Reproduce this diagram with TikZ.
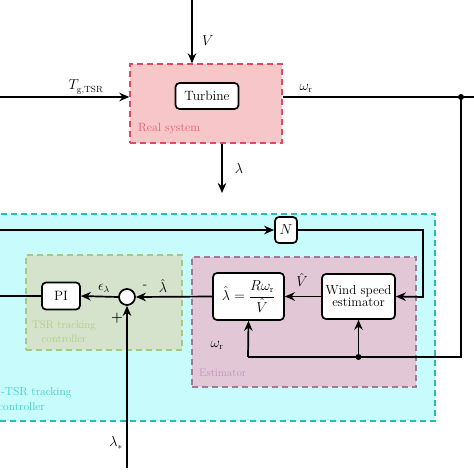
\documentclass[tikz,border=0pt]{standalone}
\usetikzlibrary{arrows.meta,positioning,calc}
\definecolor{realfill}{HTML}{F7C6C9}
\definecolor{realdraw}{HTML}{E04A5E}
\definecolor{realtext}{HTML}{E0606E}
\definecolor{cyfill}{HTML}{C8FBFB}
\definecolor{cydraw}{HTML}{22BFB2}
\definecolor{cytext}{HTML}{3CCFC6}
\definecolor{grfill}{HTML}{D5E2CC}
\definecolor{grdraw}{HTML}{A6C880}
\definecolor{grtext}{HTML}{ACCF80}
\definecolor{esfill}{HTML}{E2C7D7}
\definecolor{esdraw}{HTML}{A07A98}
\definecolor{estext}{HTML}{C292BA}
\tikzset{
  x=1pt,y=-1pt,
  group/.style={rectangle,dashed,line width=1.4pt,dash pattern=on 6pt off 4pt,inner sep=0pt},
  blk/.style={draw,rounded corners=4pt,line width=1.7pt,fill=white,inner sep=0pt,font=\fontsize{13.5}{14}\selectfont},
  sig/.style={line width=1.7pt,-{Stealth[length=10pt,width=8.5pt]}},
  wire/.style={line width=1.7pt},
  lbl/.style={font=\fontsize{13.5}{14}\selectfont,inner sep=0pt},
  dotn/.style={circle,fill=black,inner sep=0pt,minimum size=6pt},
}
\begin{document}
\begin{tikzpicture}
\useasboundingbox (0,0) rectangle (474,474);
\clip (0,0) rectangle (474,474);
% group boxes
\node[group,draw=cydraw,fill=cyfill,minimum width=455pt,minimum height=207pt] (cyan) at (207.5,317.5) {};
\node[group,draw=grdraw,fill=grfill,minimum width=156pt,minimum height=95pt] (green) at (104,302.5) {};
\node[group,draw=esdraw,fill=esfill,minimum width=224pt,minimum height=130pt] (estim) at (304,322) {};
\node[group,draw=realdraw,fill=realfill,minimum width=152pt,minimum height=79pt] (real) at (206,103.5) {};
% group labels
\node[anchor=west,text=realtext,font=\fontsize{12}{13}\selectfont,inner sep=0pt] (reallbl) at (138,129) {Real system};
\node[text=grtext,font=\fontsize{11}{14}\selectfont,align=center,inner sep=0pt] (grlbl) at (64,332) {TSR tracking\\controller};
\node[anchor=west,text=estext,font=\fontsize{11}{13}\selectfont,inner sep=0pt] (eslbl) at (199,373) {Estimator};
\node[anchor=north west,text=cytext,font=\fontsize{11.5}{16}\selectfont,align=left,inner sep=0pt] (cylbl) at (1,387) {-TSR tracking\\[-1pt]\hspace*{-3pt}controller};
% blocks
\node[blk,minimum width=63pt,minimum height=26pt] (turb) at (207,96) {Turbine};
\node[blk,minimum width=38pt,minimum height=27pt] (pi) at (61,296) {PI};
\node[draw,circle,line width=1.7pt,fill=white,minimum size=16pt,inner sep=0pt] (sum) at (127,297) {};
\node[blk,minimum width=71pt,minimum height=47pt] (lam) at (248.5,296.5) {$\displaystyle\hat\lambda=\frac{R\omega_{\mathrm{r}}}{\hat V}$};
\node[blk,minimum width=73pt,minimum height=45pt,align=center,font=\fontsize{13}{13}\selectfont] (wse) at (358.5,296.5) {Wind speed\\[-1pt]estimator};
\node[blk,minimum width=22pt,minimum height=26pt] (nn) at (286,230) {$N$};
% coordinates
\coordinate (vtop) at (192,-2);
\coordinate (tgl) at (-2,97);
\coordinate (wr) at (461,97);
\coordinate (wend) at (476,97);
\coordinate (lamout) at (222,193);
\coordinate (ntop) at (-2,230);
\coordinate (ncor1) at (423,230);
\coordinate (ncor2) at (423,297);
\coordinate (piout) at (-2,296);
\coordinate (lsb) at (127,468);
\coordinate (fb1) at (461,357);
\coordinate (fb2) at (248,357);
\coordinate (fb3) at (358.5,357);
% connectors
\draw[sig] (vtop) -- (vtop |- real.north);
\node[lbl,anchor=west] (vlbl) at (202,41) {$V$};
\draw[sig] (tgl) -- (tgl -| real.west);
\node[lbl] (tglbl) at (86,87) {$T_{\mathrm{g,TSR}}$};
\draw[wire] (real.east |- wr) -- (wend);
\node[lbl] (wlbl) at (306,88) {$\omega_{\mathrm{r}}$};
\node[dotn] (d1) at (wr) {};
\draw[sig] (lamout |- real.south) -- (lamout);
\node[lbl] (lamlbl) at (239,168) {$\lambda$};
\draw[sig] (ntop) -- (nn.west);
\draw[sig] (nn.east) -- (ncor1) -- (ncor2) -- (wse.east);
\draw[sig] (wse.west) -- (lam.east);
\node[lbl] (vhlbl) at (302,280) {$\hat V$};
\draw[sig] (lam.west) -- (sum.east);
\node[lbl] (minus) at (145,287) {-};
\node[lbl] (lhlbl) at (163,286) {$\hat\lambda$};
\draw[sig] (sum.west) -- (pi.east);
\node[lbl] (eplbl) at (104,288) {$\epsilon_\lambda$};
\draw[wire] (pi.west) -- (piout);
\draw[sig] (lsb) -- (sum.south);
\node[lbl] (lslbl) at (116,443) {$\lambda_*$};
\node[lbl] (plus) at (117,318) {\textbf{+}};
\draw[wire] (d1.center) -- (fb1) -- (fb2);
\draw[sig] (fb2) -- (lam.south);
\draw[sig] (fb3) -- (wse.south);
\node[dotn] (d2) at (fb3) {};
\node[lbl] (wrlbl) at (217,345) {$\omega_{\mathrm{r}}$};
\end{tikzpicture}
\end{document}
